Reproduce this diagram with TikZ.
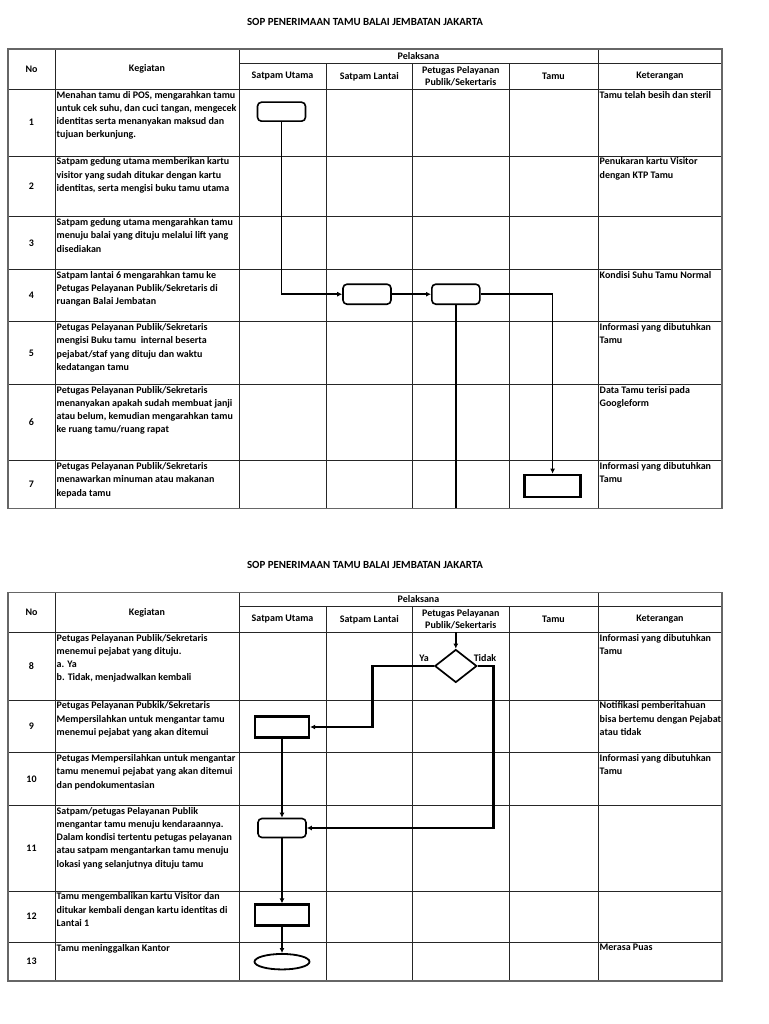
\documentclass[tikz,border=0pt]{standalone}
\usepackage{fontspec}
\setmainfont{Carlito}
\usetikzlibrary{arrows.meta,shapes.geometric}
\tikzset{
  txt/.style={font=\fontsize{10}{13.3}\selectfont\bfseries, inner sep=0pt, align=left, anchor=north west},
  hdr/.style={font=\fontsize{10}{12}\selectfont\bfseries, inner sep=0pt, align=center},
  ttl/.style={font=\fontsize{10.9}{12}\selectfont\bfseries, inner sep=0pt},
  gridline/.style={draw=black!85, line width=0.8pt},
  outerline/.style={draw=black!60, line width=1.6pt},
  rbox/.style={draw, rounded corners=4pt, line width=1.6pt, minimum width=48pt, minimum height=19pt, inner sep=0pt},
  sbox/.style={draw, line width=2.3pt, minimum width=54pt, minimum height=21pt, inner sep=0pt},
  dia/.style={diamond, draw, line width=1.7pt, minimum width=42pt, minimum height=33pt, inner sep=0pt},
  oval/.style={ellipse, draw, line width=1.8pt, minimum width=55pt, minimum height=15.5pt, inner sep=0pt},
  flow/.style={line width=1.6pt, -{Latex[length=5pt,width=5pt]}},
  flowthick/.style={line width=2.3pt, -{Latex[length=5pt,width=5pt]}},
  plain/.style={line width=1.6pt},
}
\newcommand\sopheader[2]{%
  \begin{scope}[yshift=-#2pt]
    \node[ttl] (#1title) at (365,21.5) {SOP PENERIMAAN TAMU BALAI JEMBATAN JAKARTA};
    \draw[gridline] (239,63.3) -- (722,63.3);
    \draw[gridline] (8,89.3) -- (722,89.3);
    \node[hdr] (#1no) at (31.5,69.3) {No};
    \node[hdr] (#1keg) at (147,69.3) {Kegiatan};
    \node[hdr] (#1pel) at (418.5,56.3) {Pelaksana};
    \node[hdr] (#1su) at (282.5,76.3) {Satpam Utama};
    \node[hdr] (#1sl) at (369.3,76.3) {Satpam Lantai};
    \node[hdr] (#1pp) at (460.8,76.3) {Petugas Pelayanan\\Publik/Sekertaris};
    \node[hdr] (#1ta) at (553.5,76.3) {Tamu};
    \node[hdr] (#1ket) at (660,76.3) {Keterangan};
  \end{scope}}
\begin{document}
\begin{tikzpicture}[x=1pt,y=-1pt]
\useasboundingbox (0,0) rectangle (768,1024);
\fill[white] (0,0) rectangle (768,1024);

% ---------------- TOP TABLE ----------------
\sopheader{a}{0}
\foreach \y in {156,216.7,269.3,321.7,384.3,460.7} \draw[gridline] (8,\y) -- (722,\y);
\foreach \x in {55,239,598} \draw[gridline] (\x,49.3) -- (\x,508.3);
\foreach \x in {326,412.7,509} \draw[gridline] (\x,63.3) -- (\x,508.3);
\draw[outerline] (8,49.3) rectangle (722,508.3);

\node[hdr] (n1) at (31.5,122.7) {1};
\node[hdr] (n2) at (31.5,186.3) {2};
\node[hdr] (n3) at (31.5,243) {3};
\node[hdr] (n4) at (31.5,295.5) {4};
\node[hdr] (n5) at (31.5,353) {5};
\node[hdr] (n6) at (31.5,422.5) {6};
\node[hdr] (n7) at (31.5,484.5) {7};

\node[txt] (k1) at (56.5,90.8) {Menahan tamu di POS, mengarahkan tamu\\untuk cek suhu, dan cuci tangan, mengecek\\identitas serta menanyakan maksud dan\\tujuan berkunjung.};
\node[txt] (k2) at (56.5,157.5) {Satpam gedung utama memberikan kartu\\visitor yang sudah ditukar dengan kartu\\identitas, serta mengisi buku tamu utama};
\node[txt] (k3) at (56.5,218.2) {Satpam gedung utama mengarahkan tamu\\menuju balai yang dituju melalui lift yang\\disediakan};
\node[txt] (k4) at (56.5,270.8) {Satpam lantai 6 mengarahkan tamu ke\\Petugas Pelayanan Publik/Sekretaris di\\ruangan Balai Jembatan};
\node[txt] (k5) at (56.5,323.2) {Petugas Pelayanan Publik/Sekretaris\\mengisi Buku tamu\ \ internal beserta\\pejabat/staf yang dituju dan waktu\\kedatangan tamu};
\node[txt] (k6) at (56.5,385.8) {Petugas Pelayanan Publik/Sekretaris\\menanyakan apakah sudah membuat janji\\atau belum, kemudian mengarahkan tamu\\ke ruang tamu/ruang rapat};
\node[txt] (k7) at (56.5,462.2) {Petugas Pelayanan Publik/Sekretaris\\menawarkan minuman atau makanan\\kepada tamu};

\node[txt] (c1) at (599.5,90.8) {Tamu telah besih dan steril};
\node[txt] (c2) at (599.5,157.5) {Penukaran kartu Visitor\\dengan KTP Tamu};
\node[txt] (c4) at (599.5,270.8) {Kondisi Suhu Tamu Normal};
\node[txt] (c5) at (599.5,323.2) {Informasi yang dibutuhkan\\Tamu};
\node[txt] (c6) at (599.5,385.8) {Data Tamu terisi pada\\Googleform};
\node[txt] (c7) at (599.5,462.2) {Informasi yang dibutuhkan\\Tamu};

% flow top
\node[rbox] (b1) at (281.5,111.7) {};
\node[rbox, minimum height=20pt] (b2) at (367,294.2) {};
\node[rbox, minimum height=20pt] (b3) at (455.8,294.2) {};
\node[sbox, minimum width=56pt, minimum height=22pt] (r7) at (552.6,485.8) {};
\coordinate (endtop) at (455.8,508.3);
\draw[flow] (b1.south) |- (b2.west);
\draw[flow] (b2.east) -- (b3.west);
\draw[flow] (b3.east) -| (r7.north);
\draw[plain] (b3.south) -- (endtop);

% ---------------- BOTTOM TABLE ----------------
\sopheader{b}{543.2}
\foreach \y in {700,752.7,805.3,891,942.3} \draw[gridline] (8,\y) -- (722,\y);
\foreach \x in {55,239,598} \draw[gridline] (\x,592.5) -- (\x,981);
\foreach \x in {326,412.7,509} \draw[gridline] (\x,606.5) -- (\x,981);
\draw[outerline] (8,592.5) rectangle (722,981);

\node[hdr] (n8) at (31.5,666.2) {8};
\node[hdr] (n9) at (31.5,726.3) {9};
\node[hdr] (n10) at (31.5,779) {10};
\node[hdr] (n11) at (31.5,848.2) {11};
\node[hdr] (n12) at (31.5,916.7) {12};
\node[hdr] (n13) at (31.5,961.7) {13};

\node[txt] (k8) at (56.5,633.8) {Petugas Pelayanan Publik/Sekretaris\\menemui pejabat yang dituju.\\a. Ya\\b. Tidak, menjadwalkan kembali};
\node[txt] (k9) at (56.5,701.5) {Petugas Pelayanan Pubkik/Sekretaris\\Mempersilahkan untuk mengantar tamu\\menemui pejabat yang akan ditemui};
\node[txt] (k10) at (56.5,754.2) {Petugas Mempersilahkan untuk mengantar\\tamu menemui pejabat yang akan ditemui\\dan pendokumentasian};
\node[txt] (k11) at (56.5,806.8) {Satpam/petugas Pelayanan Publik\\mengantar tamu menuju kendaraannya.\\Dalam kondisi tertentu petugas pelayanan\\atau satpam mengantarkan tamu menuju\\lokasi yang selanjutnya dituju tamu};
\node[txt] (k12) at (56.5,892.5) {Tamu mengembalikan kartu Visitor dan\\ditukar kembali dengan kartu identitas di\\Lantai 1};
\node[txt] (k13) at (56.5,943.8) {Tamu meninggalkan Kantor};

\node[txt] (c8) at (599.5,633.8) {Informasi yang dibutuhkan\\Tamu};
\node[txt] (c9) at (599.5,701.5) {Notifikasi pemberitahuan\\bisa bertemu dengan Pejabat\\atau tidak};
\node[txt] (c10) at (599.5,754.2) {Informasi yang dibutuhkan\\Tamu};
\node[txt] (c13) at (599.5,943.8) {Merasa Puas};

% flow bottom
\coordinate (starttop) at (455.8,632.3);
\node[dia] (d8) at (455.8,666) {};
\node[hdr] (ya) at (424,658) {Ya};
\node[hdr] (tidak) at (485,658) {Tidak};
\node[sbox] (r9) at (282,727) {};
\node[rbox] (b11) at (282,828) {};
\node[sbox] (r12) at (282,915) {};
\node[oval] (e13) at (282,961.7) {};
\coordinate (yaturn) at (372.4,666);
\coordinate (tidakturn) at (493.5,666);
\draw[flow] (starttop) -- (d8.north);
\draw[flowthick] (d8.west) -- (yaturn) |- (r9.east);
\draw[flowthick] (d8.east) -- (tidakturn) |- (b11.east);
\draw[flow] (r9.south) -- (b11.north);
\draw[flow] (b11.south) -- (r12.north);
\draw[flow] (r12.south) -- (e13.north);
\end{tikzpicture}
\end{document}
